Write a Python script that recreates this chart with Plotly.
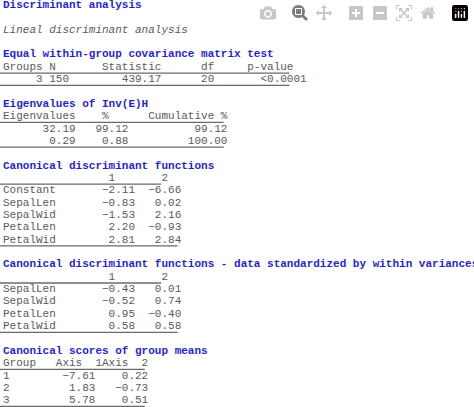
import plotly.graph_objects as go

W, H = 474, 407

# ── Données ───────────────────────────────────────────────────────────────────
test_groups, test_n, test_stat, test_df, test_p = 3, 150, 439.17, 20, "<0.0001"

eigenvalues = [32.19, 0.29]
eig_pct = [99.12, 0.88]
eig_cum = [99.12, 100.00]

variables = ['Constant', 'SepalLen', 'SepalWid', 'PetalLen', 'PetalWid']
canon_f1 = [-2.11, -0.83, -1.53, 2.20, 2.81]
canon_f2 = [-6.66, 0.02, 2.16, -0.93, 2.84]

std_vars = ['SepalLen', 'SepalWid', 'PetalLen', 'PetalWid']
std_f1 = [-0.43, -0.52, 0.95, 0.58]
std_f2 = [0.01, 0.74, -0.40, 0.58]

groups = ['1', '2', '3']
axis1 = [-7.61, 1.83, 5.78]
axis2 = [0.22, -0.73, 0.51]

# ── Mise en forme ─────────────────────────────────────────────────────────────
BLUE = '#1f1fdc'
GREY = '#5a5a5a'
FONT = 'Liberation Mono'
PITCH, Y0, CW = 12.35, 5, 6.58

def num(v, w):
    return f"{v:{w}.2f}".replace('-', '\u2212')

lines = []   # (line index, text, style)
lines.append((0, 'Discriminant analysis', 'title'))
lines.append((2, 'Lineal discriminant analysis', 'italic'))

lines.append((4, 'Equal within-group covariance matrix test', 'title'))
lines.append((5, 'Groups N       Statistic      df     p-value', 'body'))
lines.append((6, f"{test_groups:6d} {test_n:<3d}{test_stat:14.2f}{test_df:8d}{test_p:>14}", 'body'))

lines.append((8, 'Eigenvalues of Inv(E)H', 'title'))
lines.append((9, 'Eigenvalues    %      Cumulative %', 'body'))
for i in range(len(eigenvalues)):
    lines.append((10 + i, num(eigenvalues[i], 11) + num(eig_pct[i], 8) + num(eig_cum[i], 15), 'body'))

lines.append((13, 'Canonical discriminant functions', 'title'))
lines.append((14, ' ' * 16 + '1' + ' ' * 7 + '2', 'body'))
for i, v in enumerate(variables):
    lines.append((15 + i, f"{v:<12}" + num(canon_f1[i], 8) + num(canon_f2[i], 7), 'body'))

lines.append((21, 'Canonical discriminant functions - data standardized by within variances', 'title'))
lines.append((22, ' ' * 16 + '1' + ' ' * 7 + '2', 'body'))
for i, v in enumerate(std_vars):
    lines.append((23 + i, f"{v:<12}" + num(std_f1[i], 8) + num(std_f2[i], 7), 'body'))

lines.append((28, 'Canonical scores of group means', 'title'))
lines.append((29, 'Group   Axis  1Axis  2', 'body'))
for i, g in enumerate(groups):
    lines.append((30 + i, f"{g:<5}" + num(axis1[i], 9) + num(axis2[i], 8), 'body'))

# underlines: (line index, length in chars)
rules = [(5, 44), (6, 44), (9, 34), (11, 34), (14, 24.5), (19, 27), (22, 24.5), (26, 27), (29, 22), (32, 22)]

def ypx(i):
    return Y0 + i * PITCH

fig = go.Figure()
for i, txt, style in lines:
    fig.add_annotation(
        x=0.5 / W, y=1 - ypx(i) / H, xref='paper', yref='paper',
        xanchor='left', yanchor='middle', showarrow=False,
        text=(f"<b>{txt}</b>" if style == 'title' else f"<i>{txt}</i>" if style == 'italic' else txt).replace(' ', '\u00a0'),
        font=dict(family=FONT, size=11, color=BLUE if style == 'title' else GREY),
    )

for i, n in rules:
    y = 1 - (ypx(i) + 6.3) / H
    fig.add_shape(type='line', xref='paper', yref='paper', x0=0, x1=n * CW / W,
                  y0=y, y1=y, line=dict(color='#6a6a6a', width=1.3))

fig.update_layout(width=W, height=H, margin=dict(l=0, r=0, t=0, b=0),
                  paper_bgcolor='white', plot_bgcolor='white',
                  xaxis=dict(visible=False), yaxis=dict(visible=False))
fig.write_html("out.html", post_script="document.body.style.margin='0';")
